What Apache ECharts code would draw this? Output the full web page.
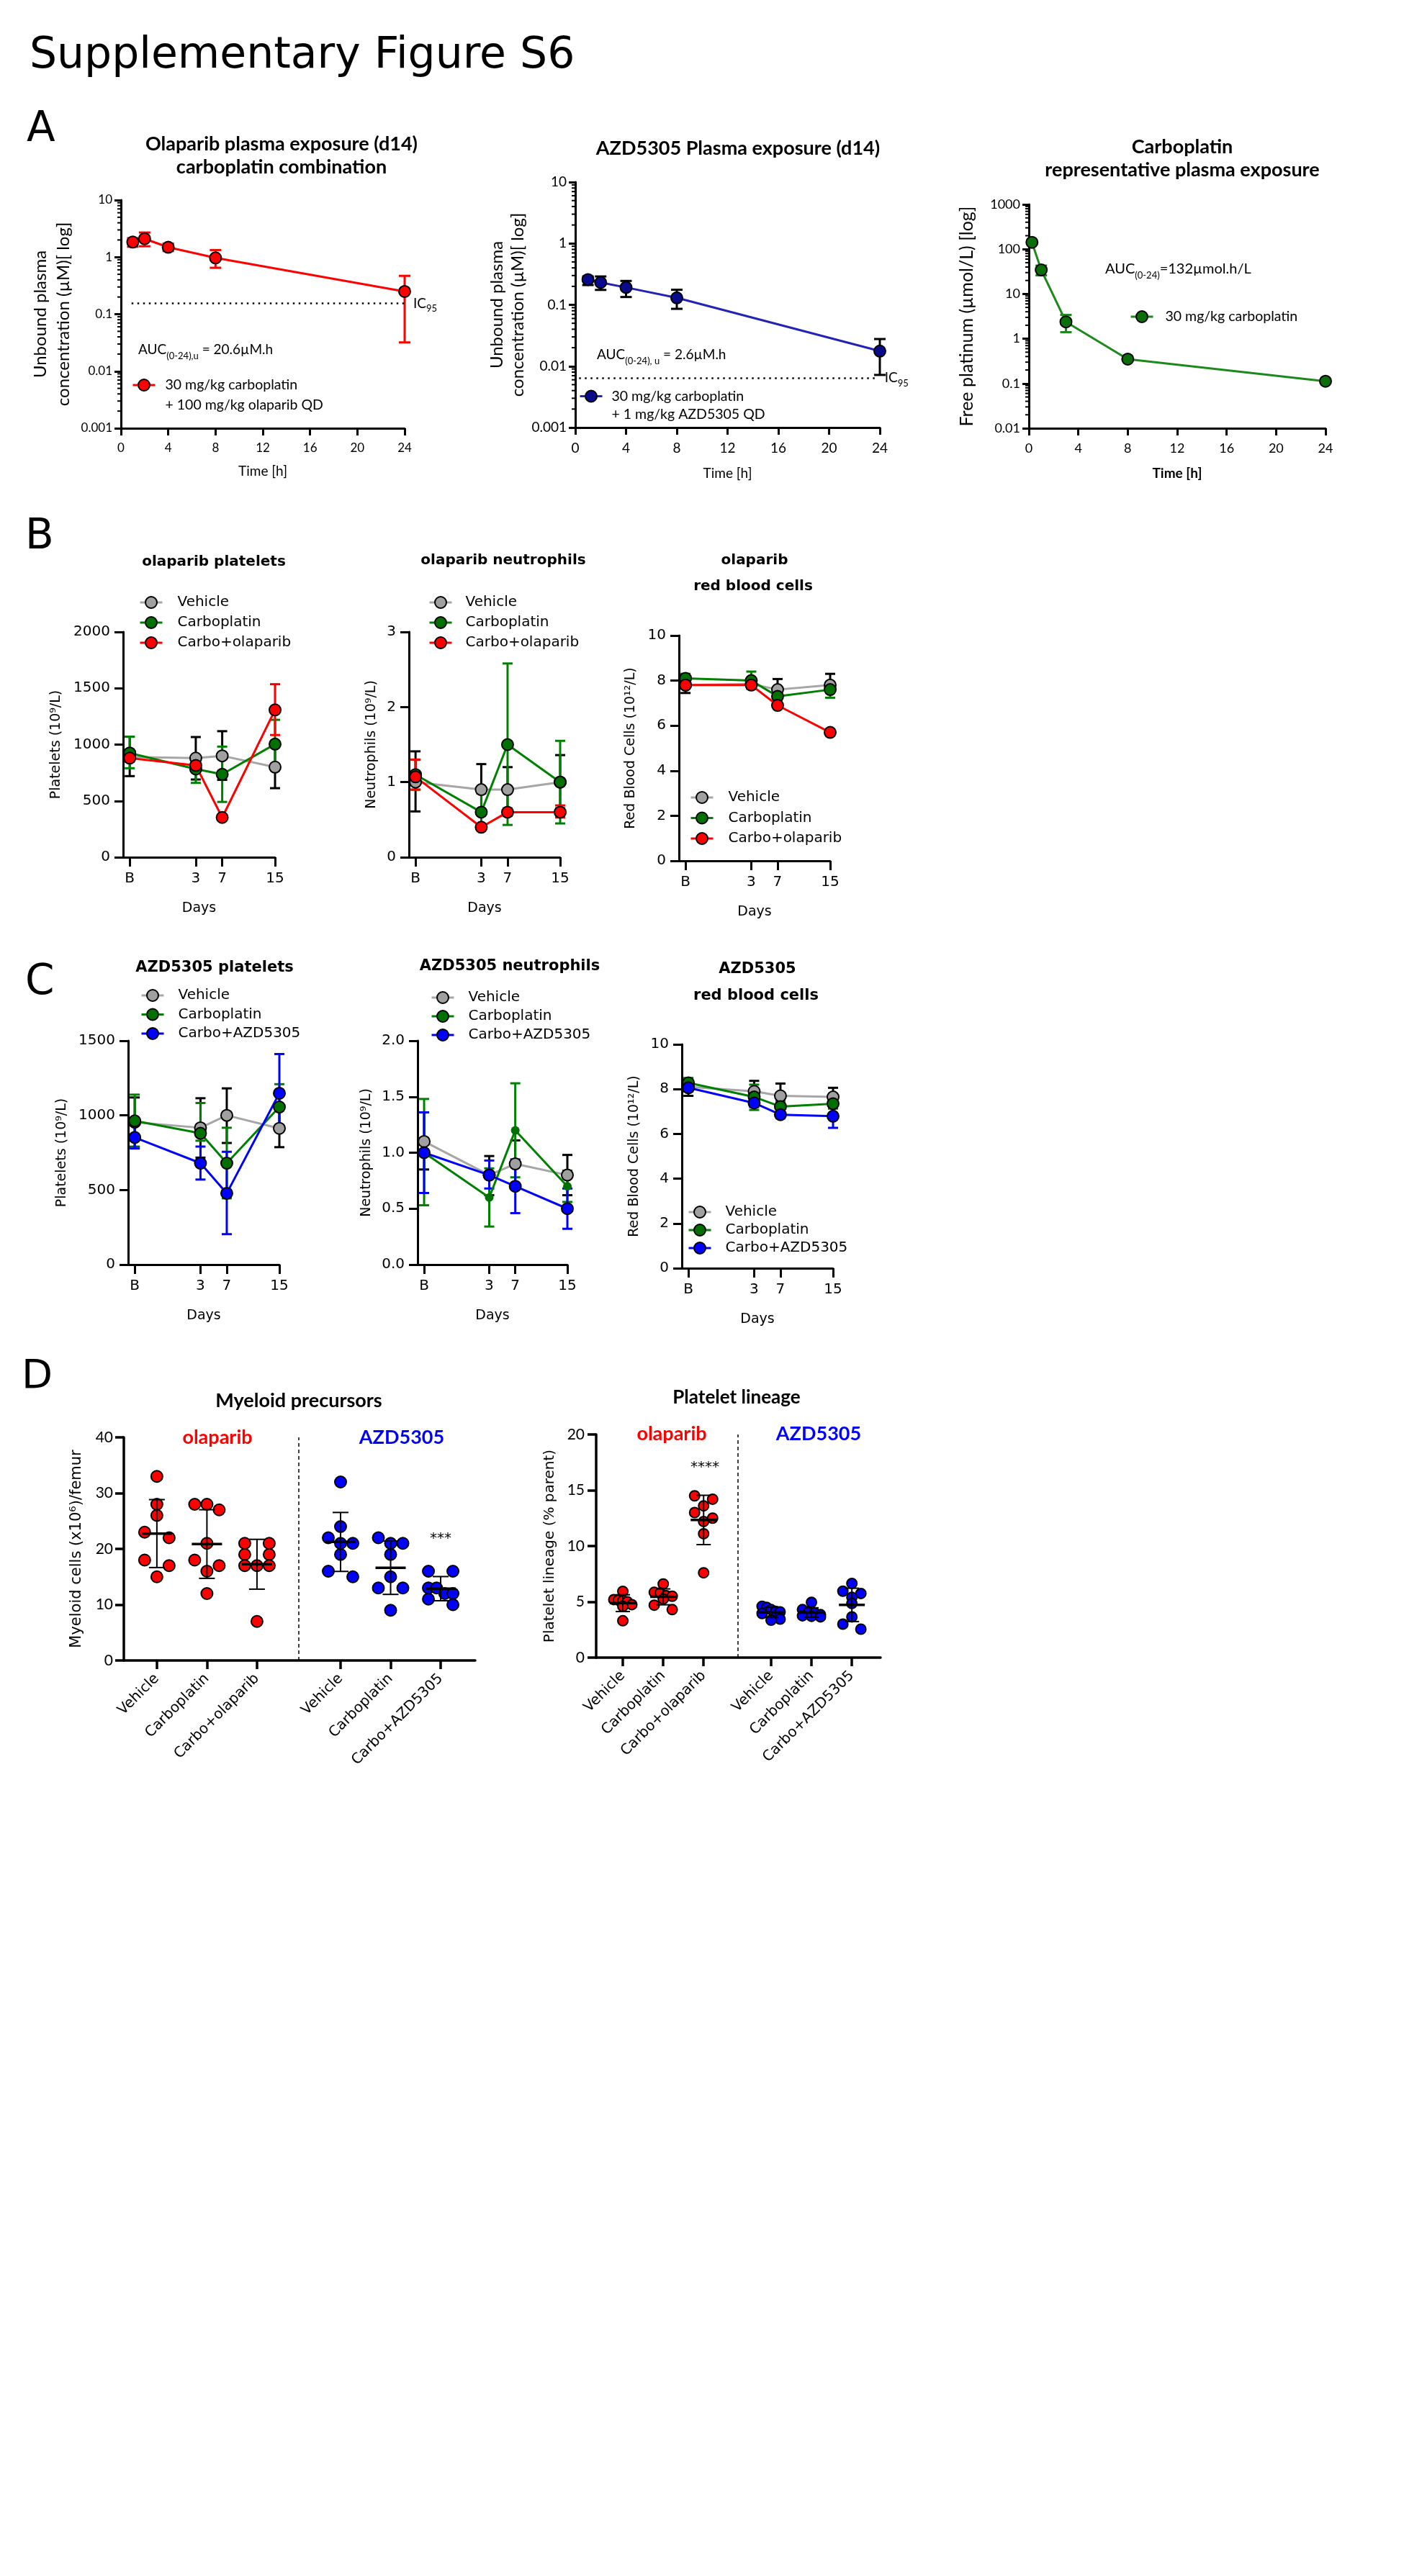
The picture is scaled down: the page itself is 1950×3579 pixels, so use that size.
<!DOCTYPE html>
<html>
<head>
<meta charset="utf-8">
<script src="https://cdn.jsdelivr.net/npm/echarts@6/dist/echarts.min.js"></script>
<style>html,body{margin:0;padding:0;background:#fff}#c{width:1950px;height:3579px}</style>
</head>
<body>
<div id="c"></div>
<script>
// ====================== DATA ======================
// Panel A – PK curves (time in h, concentrations)
const timeOla = [1, 2, 4, 8, 24];
const olaMean = [1.84, 2.1, 1.49, 0.97, 0.25];
const olaLo   = [1.52, 1.55, 1.28, 0.65, 0.032];
const olaHi   = [2.15, 2.7, 1.73, 1.33, 0.47];
const olaIC95 = 0.155;

const timeAzd = [1, 2, 4, 8, 24];
const azdMean = [0.258, 0.231, 0.192, 0.130, 0.0176];
const azdLo   = [0.21, 0.175, 0.134, 0.086, 0.0072];
const azdHi   = [0.29, 0.29, 0.245, 0.176, 0.0277];
const azdIC95 = 0.0064;

const timePt = [0.25, 1, 3, 8, 24];
const ptMean = [142, 34.3, 2.38, 0.35, 0.112];
const ptLo   = [null, 26, 1.4, null, null];
const ptHi   = [null, 43, 3.4, null, null];

// Panels B/C – days (B = baseline plotted at day -7)
const dayValues = [-7, 3, 7, 15];
const dayLabels = ['B', '3', '7', '15'];

const bPltVeh = [890, 880, 900, 800],   bPltVehLo = [720, 690, 687, 613],  bPltVehHi = [1070, 1067, 1119, 999];
const bPltCar = [925, 783, 736, 1004],  bPltCarLo = [790, 660, 491, 790],  bPltCarHi = [1070, 890, 982, 1220];
const bPltOla = [880, 815, 353, 1308],  bPltOlaLo = [850, 790, 330, 1085], bPltOlaHi = [910, 840, 375, 1536];

const bNeuVeh = [1.0, 0.9, 0.9, 1.0],   bNeuVehLo = [0.61, 0.6, 0.6, 0.65], bNeuVehHi = [1.41, 1.24, 1.2, 1.36];
const bNeuCar = [1.1, 0.6, 1.5, 1.0],   bNeuCarLo = [0.9, 0.39, 0.43, 0.45], bNeuCarHi = [1.3, 0.85, 2.58, 1.55];
const bNeuOla = [1.07, 0.4, 0.6, 0.6],  bNeuOlaLo = [0.9, 0.37, 0.55, 0.53], bNeuOlaHi = [1.3, 0.43, 0.65, 0.69];

const bRbcVeh = [7.8, 7.85, 7.6, 7.8],  bRbcVehLo = [7.45, 7.65, 7.3, 7.5], bRbcVehHi = [8.05, 8.1, 8.07, 8.3];
const bRbcCar = [8.1, 8.0, 7.3, 7.6],   bRbcCarLo = [7.9, 7.64, 7.1, 7.24], bRbcCarHi = [8.3, 8.4, 7.5, 7.9];
const bRbcOla = [7.8, 7.8, 6.9, 5.7],   bRbcOlaLo = [7.7, 7.7, 6.8, 5.6],   bRbcOlaHi = [7.9, 7.9, 7.0, 5.8];

const cPltVeh = [954, 917, 1000, 913],  cPltVehLo = [790, 717, 815, 787],  cPltVehHi = [1120, 1115, 1181, 1040];
const cPltCar = [963, 880, 680, 1056],  cPltCarLo = [787, 830, 444, 900],  cPltCarHi = [1139, 1083, 917, 1209];
const cPltAzd = [852, 680, 478, 1148],  cPltAzdLo = [778, 570, 204, 900],  cPltAzdHi = [940, 791, 756, 1411];

const cNeuVeh = [1.1, 0.8, 0.9, 0.8],   cNeuVehLo = [0.85, 0.62, 0.7, 0.62], cNeuVehHi = [1.36, 0.97, 1.11, 0.98];
const cNeuCar = [1.0, 0.6, 1.2, 0.7],   cNeuCarLo = [0.53, 0.34, 0.78, 0.56], cNeuCarHi = [1.48, 0.86, 1.62, 0.84];
const cNeuAzd = [1.0, 0.8, 0.7, 0.5],   cNeuAzdLo = [0.64, 0.68, 0.46, 0.32], cNeuAzdHi = [1.36, 0.93, 0.94, 0.68];

const cRbcVeh = [8.1, 7.9, 7.7, 7.65],  cRbcVehLo = [7.7, 7.6, 7.4, 7.4],   cRbcVehHi = [8.4, 8.37, 8.25, 8.06];
const cRbcCar = [8.28, 7.65, 7.22, 7.35], cRbcCarLo = [8.0, 7.07, 6.95, 7.13], cRbcCarHi = [8.5, 8.2, 7.5, 7.6];
const cRbcAzd = [8.06, 7.38, 6.86, 6.79], cRbcAzdLo = [7.9, 7.2, 6.7, 6.27], cRbcAzdHi = [8.2, 7.55, 7.0, 7.2];

// Panel D – individual animals
const dGroupNames = ['Vehicle', 'Carboplatin', 'Carbo+olaparib', 'Vehicle', 'Carboplatin', 'Carbo+AZD5305'];
const myeOlaVeh = [33, 28, 26, 23, 22, 18, 17, 15];
const myeOlaCar = [28, 28, 27, 21, 18, 17, 16, 12];
const myeOlaCmb = [21, 21, 19, 19, 17, 17, 17, 7];
const myeAzdVeh = [32, 24, 22, 21, 21, 19, 16, 15];
const myeAzdCar = [22, 21, 21, 19, 15, 13, 13, 9];
const myeAzdCmb = [16, 16, 13, 13, 12, 12, 11, 10];

const pltOlaVeh = [5.94, 5.2, 5.15, 5.1, 5.0, 4.75, 4.6, 3.3];
const pltOlaCar = [6.6, 5.85, 5.8, 5.55, 5.5, 5.25, 4.7, 4.3];
const pltOlaCmb = [14.5, 14.2, 13.6, 13.0, 12.5, 12.2, 11.1, 7.6];
const pltAzdVeh = [4.6, 4.5, 4.3, 4.15, 4.1, 3.95, 3.45, 3.35];
const pltAzdCar = [4.95, 4.3, 4.1, 4.0, 3.85, 3.75, 3.7, 3.65];
const pltAzdCmb = [6.65, 5.95, 5.75, 5.4, 4.85, 3.65, 3.0, 2.55];

// ====================== STYLE / LAYOUT ======================
const FV = 'DejaVu Sans', FC = 'Lato';
const COL = {
  veh: { line: '#a6a6a6', fill: '#a0a0a0', err: '#000000' },
  car: { line: '#008000', fill: '#007000', err: '#008000' },
  ola: { line: '#ff0000', fill: '#ff0000', err: '#ff0000' },
  azd: { line: '#0000ff', fill: '#0000ff', err: '#0000ff' },
  pkOla: { line: '#ff0000', fill: '#ff0000', err: '#ff0000' },
  pkAzd: { line: '#2323b8', fill: '#0a0a8c', err: '#000000' },
  pkPt:  { line: '#1b8a1b', fill: '#0b6e0b', err: '#1b8a1b' }
};

function clean(o) {
  if (Array.isArray(o)) return o.map(clean);
  if (o && typeof o === 'object') {
    const r = {};
    for (const k in o) if (o[k] !== undefined) r[k] = clean(o[k]);
    return r;
  }
  return o;
}

const option = {
  animation: false, backgroundColor: '#ffffff',
  textStyle: { fontFamily: FV },
  grid: [], xAxis: [], yAxis: [], series: [], legend: [], graphic: []
};

function txt(x, y, text, font, size, extra) {
  extra = extra || {};
  return {
    type: 'text', x: x, y: y, silent: true,
    style: Object.assign({
      text: text, fontFamily: font, fontSize: size, fontWeight: extra.weight || 'normal',
      fill: extra.color || '#000',
      align: extra.align || 'center', textAlign: extra.align || 'center',
      verticalAlign: 'middle', textVerticalAlign: 'middle'
    }, extra.style || {})
  };
}

function errSeries(xi, yi, xs, lo, hi, color, cap, lw) {
  const data = [];
  xs.forEach((x, i) => { if (lo[i] != null && hi[i] != null) data.push([x, lo[i], hi[i]]); });
  return {
    type: 'custom', xAxisIndex: xi, yAxisIndex: yi, data: data, z: 2, silent: true, clip: false,
    renderItem: function (params, api) {
      const x = api.value(0);
      const a = api.coord([x, api.value(1)]), b = api.coord([x, api.value(2)]);
      const st = { stroke: color, lineWidth: lw };
      return { type: 'group', children: [
        { type: 'line', shape: { x1: a[0], y1: a[1], x2: b[0], y2: b[1] }, style: st },
        { type: 'line', shape: { x1: a[0] - cap, y1: a[1], x2: a[0] + cap, y2: a[1] }, style: st },
        { type: 'line', shape: { x1: b[0] - cap, y1: b[1], x2: b[0] + cap, y2: b[1] }, style: st }
      ]};
    }
  };
}

function minorLogTicks(xi, yi, xMin, eMin, eMax, len) {
  const vals = [];
  for (let e = eMin; e < eMax; e++) for (let k = 2; k <= 9; k++) vals.push([xMin, k * Math.pow(10, e)]);
  return {
    type: 'custom', xAxisIndex: xi, yAxisIndex: yi, data: vals, silent: true, clip: false, z: 1,
    renderItem: function (params, api) {
      const p = api.coord([api.value(0), api.value(1)]);
      return { type: 'line', shape: { x1: p[0] - len, y1: p[1], x2: p[0], y2: p[1] }, style: { stroke: '#000', lineWidth: 2 } };
    }
  };
}

// generic XY panel
function xyPanel(P) {
  const gi = option.grid.length;
  option.grid.push({ left: P.g[0], top: P.g[1], width: P.g[2], height: P.g[3] });
  const xi = option.xAxis.length, yi = option.yAxis.length;
  option.xAxis.push(clean({
    gridIndex: gi, type: 'value', min: P.xMin, max: P.xMax, interval: P.xInterval,
    name: P.xName, nameLocation: 'middle', nameGap: P.xNameGap, nameMoveOverlap: false,
    nameTextStyle: { color: '#000', fontFamily: P.nameFont, fontSize: P.xNameSize, fontWeight: P.xNameWeight || 'normal' },
    axisLine: { show: true, onZero: false, lineStyle: { color: '#000', width: P.lw || 3 } },
    axisTick: { show: true, length: P.xTickLen || 10, lineStyle: { color: '#000', width: P.lw || 3 }, customValues: P.xTicks },
    axisLabel: { color: '#000', fontFamily: P.xLabelFont || P.labelFont, fontSize: P.xLabelSize || P.labelSize, margin: P.xLabelMargin,
      customValues: P.xTicks, formatter: P.xFormatter || (v => String(v)), rotate: P.xRotate, hideOverlap: false },
    splitLine: { show: false }
  }));
  option.yAxis.push(clean({
    gridIndex: gi, type: P.yLog ? 'log' : 'value', logBase: P.yLog ? 10 : undefined,
    min: P.yMin, max: P.yMax, interval: P.yInterval,
    name: P.yName, nameLocation: 'middle', nameGap: P.yNameGap, nameRotate: 90, nameMoveOverlap: false,
    nameTextStyle: { color: '#000', fontFamily: P.nameFont, fontSize: P.yNameSize, lineHeight: P.yNameLH, align: 'center' },
    axisLine: { show: true, onZero: false, lineStyle: { color: '#000', width: P.lw || 3 } },
    axisTick: { show: true, length: P.yTickLen || 10, lineStyle: { color: '#000', width: P.lw || 3 } },
    axisLabel: { color: '#000', fontFamily: P.labelFont, fontSize: P.labelSize, margin: P.yLabelMargin, formatter: P.yFormatter || (v => String(v)) },
    splitLine: { show: false }, minorTick: { show: false }
  }));
  return { xi: xi, yi: yi };
}

function lineSeries(ax, s, xs) {
  option.series.push(errSeries(ax.xi, ax.yi, xs, s.lo, s.hi, s.c.err, s.cap || 7, 3));
  option.series.push(clean({
    type: 'line', name: s.name, xAxisIndex: ax.xi, yAxisIndex: ax.yi, z: 3,
    data: xs.map((x, i) => [x, s.mean[i]]),
    symbol: 'circle', symbolSize: s.size || 16, showSymbol: true,
    lineStyle: { color: s.c.line, width: 3 },
    itemStyle: { color: s.c.fill, borderColor: s.noBorder ? s.c.fill : '#000', borderWidth: s.noBorder ? 0 : 2 },
    emphasis: { disabled: true },
    markLine: s.markLine
  }));
}

function lineLegend(names, left, top, gap, spacer) {
  option.legend.push({
    orient: 'vertical', left: left, top: top, padding: 0, itemGap: gap,
    itemWidth: 31, itemHeight: 20, selectedMode: false, data: names,
    lineStyle: { width: 3 },
    formatter: n => '{sp| }{t|' + n + '}',
    textStyle: { fontFamily: FV, fontSize: 20, lineHeight: 20, color: '#000',
      rich: { sp: { width: spacer, lineHeight: 20 }, t: { fontFamily: FV, fontSize: 20, lineHeight: 20, color: '#000' } } }
  });
}

// ====================== PANEL A ======================
const pkRich = {
  m: { fontFamily: FC, fontSize: 19, lineHeight: 28, color: '#000' },
  s: { fontFamily: FC, fontSize: 13, lineHeight: 13, verticalAlign: 'bottom', color: '#000' }
};
function icMark(x0, x1, ic) {
  return {
    symbol: 'none', silent: true, animation: false,
    lineStyle: { type: [2.5, 5.5], color: '#000', width: 2.5 },
    label: { show: true, position: 'end', distance: 12, formatter: '{m|IC}{s|95}', rich: pkRich },
    emphasis: { disabled: true },
    data: [[{ coord: [x0, ic] }, { coord: [x1, ic] }]]
  };
}

const pkCommon = { xMin: 0, xMax: 24, xInterval: 4, yLog: true, labelFont: FC, nameFont: FC,
  xName: 'Time [h]', xNameSize: 19, yNameLH: 31, xLabelMargin: 19, yLabelMargin: 12, yTickLen: 9, xTickLen: 10 };

let ax = xyPanel(Object.assign({}, pkCommon, { g: [168, 278, 394, 317], yMin: 0.001, yMax: 10, labelSize: 17,
  yName: 'Unbound plasma\nconcentration (µM)[ log]', yNameSize: 24, yNameLH: 32, yNameGap: 64, xNameGap: 50 }));
option.series.push(minorLogTicks(ax.xi, ax.yi, 0, -3, 1, 5));
lineSeries(ax, { name: 'olaPK', mean: olaMean, lo: olaLo, hi: olaHi, c: COL.pkOla, cap: 8, markLine: icMark(0.9, 24, olaIC95) }, timeOla);

ax = xyPanel(Object.assign({}, pkCommon, { g: [799, 253, 423, 341], yMin: 0.001, yMax: 10, labelSize: 19,
  yName: 'Unbound plasma\nconcentration (µM)[ log]', yNameSize: 24, yNameGap: 65, yNameLH: 29, xNameGap: 54 }));
option.series.push(minorLogTicks(ax.xi, ax.yi, 0, -3, 1, 5));
lineSeries(ax, { name: 'azdPK', mean: azdMean, lo: azdLo, hi: azdHi, c: COL.pkAzd, cap: 8, markLine: icMark(0.3, 23.7, azdIC95) }, timeAzd);

ax = xyPanel(Object.assign({}, pkCommon, { g: [1429, 284, 412, 311], yMin: 0.01, yMax: 1000, labelSize: 18,
  yName: 'Free platinum (µmol/L) [log]', yNameSize: 25, yNameLH: 25, yNameGap: 74, xNameGap: 53, xNameWeight: 'bold' }));
option.series.push(minorLogTicks(ax.xi, ax.yi, 0, -2, 3, 5));
lineSeries(ax, { name: 'ptPK', mean: ptMean, lo: ptLo, hi: ptHi, c: COL.pkPt, cap: 8 }, timePt);

function pkLegend(name, left, top, lh, lines, spacer) {
  const body = lines.map(l => '{sp| }{t|' + l + '}').join('\n');
  option.legend.push({
    orient: 'vertical', left: left, top: top, padding: 0, itemWidth: 31, itemHeight: 20,
    selectedMode: false, data: [name], lineStyle: { width: 3 },
    formatter: () => (lines.length > 1 ? '{e| }\n' : '') + body,
    textStyle: { fontFamily: FC, fontSize: 19, lineHeight: lh, color: '#000',
      rich: { e: { fontSize: 19, lineHeight: lh }, sp: { width: spacer, lineHeight: lh },
              t: { fontFamily: FC, fontSize: 19.5, lineHeight: lh, color: '#000' } } }
  });
}
pkLegend('olaPK', 183, 493, 28, ['30 mg/kg carboplatin', '+ 100 mg/kg olaparib QD'], 9);
pkLegend('azdPK', 804, 513, 25, ['30 mg/kg carboplatin', '+ 1 mg/kg AZD5305 QD'], 8);
pkLegend('ptPK', 1569, 428, 24, ['30 mg/kg carboplatin'], 12);

function richTxt(x, y, text, size) {
  return { type: 'text', x: x, y: y, silent: true, style: {
    text: text, align: 'left', textAlign: 'left', verticalAlign: 'middle', textVerticalAlign: 'middle',
    rich: { m: { fontFamily: FC, fontSize: size, lineHeight: 30, fill: '#000' },
            s: { fontFamily: FC, fontSize: 13, lineHeight: 13, verticalAlign: 'bottom', fill: '#000' } } } };
}
option.graphic.push(
  txt(41, 78, 'Supplementary Figure S6', FV, 60, { align: 'left' }),
  txt(37, 181, 'A', FV, 58, { align: 'left' }),
  txt(391, 200, 'Olaparib plasma exposure (d14)', FC, 27, { weight: 'bold' }),
  txt(391, 232, 'carboplatin combination', FC, 27, { weight: 'bold' }),
  txt(1025, 206, 'AZD5305 Plasma exposure (d14)', FC, 27, { weight: 'bold' }),
  txt(1642, 204, 'Carboplatin', FC, 27, { weight: 'bold' }),
  txt(1642, 236, 'representative plasma exposure', FC, 27, { weight: 'bold' }),
  richTxt(192, 486, '{m|AUC}{s|(0-24),u}{m| = 20.6µM.h}', 19),
  richTxt(829, 493, '{m|AUC}{s|(0-24), u}{m| = 2.6µM.h}', 19),
  richTxt(1535, 374, '{m|AUC}{s|(0-24)}{m|=132µmol.h/L}', 20)
);

// ====================== PANELS B & C ======================
const dayCommon = { xMin: -8, xMax: 15, xTicks: dayValues, xFormatter: v => dayLabels[dayValues.indexOf(v)] ?? '',
  labelFont: FV, nameFont: FV, labelSize: 20, xName: 'Days', xNameSize: 19, xNameGap: 62,
  xLabelMargin: 20, yLabelMargin: 18, yNameSize: 19, yNameLH: 21, xTickLen: 13, yTickLen: 12 };

function dayPanel(g, yMin, yMax, yInt, yName, yGap, ser, leg, yFmt) {
  const a = xyPanel(Object.assign({}, dayCommon, { g: g, yMin: yMin, yMax: yMax, yInterval: yInt,
    yName: yName, yNameGap: yGap, yFormatter: yFmt }));
  ser.forEach(s => lineSeries(a, s, dayValues));
  lineLegend(ser.map(s => s.name), leg[0], leg[1], leg[2], leg[3]);
}
const S = (name, mean, lo, hi, c, extra) => Object.assign({ name: name, mean: mean, lo: lo, hi: hi, c: c, cap: 7 }, extra || {});

dayPanel([171, 878, 211, 313], 0, 2000, 500, 'Platelets (10⁹/L)', 82, [
  S('Vehicle', bPltVeh, bPltVehLo, bPltVehHi, COL.veh),
  S('Carboplatin', bPltCar, bPltCarLo, bPltCarHi, COL.car),
  S('Carbo+olaparib', bPltOla, bPltOlaLo, bPltOlaHi, COL.ola)], [193, 827, 8, 16]);

dayPanel([568, 878, 210, 313], 0, 3, 1, 'Neutrophils (10⁹/L)', 41, [
  S('Vehicle', bNeuVeh, bNeuVehLo, bNeuVehHi, COL.veh),
  S('Carboplatin', bNeuCar, bNeuCarLo, bNeuCarHi, COL.car),
  S('Carbo+olaparib', bNeuOla, bNeuOlaLo, bNeuOlaHi, COL.ola)], [595, 827, 8, 14]);

dayPanel([943, 883, 210, 313], 0, 10, 2, 'Red Blood Cells (10¹²/L)', 56, [
  S('Vehicle', bRbcVeh, bRbcVehLo, bRbcVehHi, COL.veh),
  S('Carboplatin', bRbcCar, bRbcCarLo, bRbcCarHi, COL.car),
  S('Carbo+olaparib', bRbcOla, bRbcOlaLo, bRbcOlaHi, COL.ola)], [958, 1098, 8.5, 16]);

dayPanel([178, 1446, 210, 311], 0, 1500, 500, 'Platelets (10⁹/L)', 81, [
  S('Vehicle', cPltVeh, cPltVehLo, cPltVehHi, COL.veh),
  S('Carboplatin', cPltCar, cPltCarLo, cPltCarHi, COL.car),
  S('Carbo+AZD5305', cPltAzd, cPltAzdLo, cPltAzdHi, COL.azd)], [195, 1373, 6.5, 15]);

dayPanel([580, 1446, 208, 311], 0, 2, 0.5, 'Neutrophils (10⁹/L)', 60, [
  S('Vehicle', cNeuVeh, cNeuVehLo, cNeuVehHi, COL.veh),
  S('Carboplatin', cNeuCar, cNeuCarLo, cNeuCarHi, COL.car, { size: 12, noBorder: true }),
  S('Carbo+AZD5305', cNeuAzd, cNeuAzdLo, cNeuAzdHi, COL.azd)], [598, 1376, 6, 15], v => v.toFixed(1));

dayPanel([947, 1451, 210, 311], 0, 10, 2, 'Red Blood Cells (10¹²/L)', 55, [
  S('Vehicle', cRbcVeh, cRbcVehLo, cRbcVehHi, COL.veh),
  S('Carboplatin', cRbcCar, cRbcCarLo, cRbcCarHi, COL.car),
  S('Carbo+AZD5305', cRbcAzd, cRbcAzdLo, cRbcAzdHi, COL.azd)], [955, 1674, 5, 15]);

option.graphic.push(
  txt(35, 747, 'B', FV, 58, { align: 'left' }),
  txt(297, 781, 'olaparib platelets', FV, 20, { weight: 'bold' }),
  txt(699, 779, 'olaparib neutrophils', FV, 20, { weight: 'bold' }),
  txt(1048, 779, 'olaparib', FV, 20, { weight: 'bold' }),
  txt(1046, 815, 'red blood cells', FV, 20, { weight: 'bold' }),
  txt(35, 1366, 'C', FV, 58, { align: 'left' }),
  txt(298, 1345, 'AZD5305 platelets', FV, 21, { weight: 'bold' }),
  txt(708, 1343, 'AZD5305 neutrophils', FV, 21, { weight: 'bold' }),
  txt(1052, 1347, 'AZD5305', FV, 21, { weight: 'bold' }),
  txt(1050, 1384, 'red blood cells', FV, 21, { weight: 'bold' })
);

// ====================== PANEL D ======================
const dGroupPos = [1, 2, 3, 4.67, 5.67, 6.67];
const dColors = ['#ff0000', '#ff0000', '#ff0000', '#0000ff', '#0000ff', '#0000ff'];

function rowOffsets(values, pxY, rowPx, slot) {
  const idx = values.map((_, i) => i).sort((a, b) => values[b] - values[a]);
  const out = new Array(values.length).fill(0);
  let r = 0;
  while (r < idx.length) {
    const row = [idx[r]]; let k = r + 1;
    while (k < idx.length && (values[idx[r]] - values[idx[k]]) * pxY < rowPx) { row.push(idx[k]); k++; }
    const n = row.length;
    row.forEach((id, j) => { out[id] = n === 1 ? 0 : (n === 2 ? (j === 0 ? -slot : slot) : -slot + 2 * slot * j / (n - 1)); });
    r = k;
  }
  return out;
}
function meanSd(v) {
  const m = v.reduce((a, b) => a + b, 0) / v.length;
  const sd = Math.sqrt(v.reduce((a, b) => a + (b - m) * (b - m), 0) / (v.length - 1));
  return [m, sd];
}

function dotPanel(P) {
  const a = xyPanel({ g: P.g, xMin: P.xMin, xMax: P.xMax, xTicks: dGroupPos,
    xFormatter: v => { let bi = 0; dGroupPos.forEach((p, i) => { if (Math.abs(p - v) < Math.abs(dGroupPos[bi] - v)) bi = i; }); return dGroupNames[bi]; },
    xRotate: 45, xLabelFont: FV, xLabelSize: 20, xLabelMargin: 22, xTickLen: 12,
    yMin: 0, yMax: P.yMax, yInterval: P.yInt, yName: P.yName, yNameGap: P.yNameGap, yNameSize: P.yNameSize, yNameLH: 24,
    labelFont: FC, labelSize: P.labelSize, nameFont: FV, yLabelMargin: P.yLabelMargin, yTickLen: 12, lw: 3.5 });
  const pxX = P.g[2] / (P.xMax - P.xMin), pxY = P.g[3] / P.yMax;
  P.groups.forEach((vals, k) => {
    const offs = rowOffsets(vals, pxY, P.rowPx, P.slot);
    option.series.push(clean({
      type: 'scatter', xAxisIndex: a.xi, yAxisIndex: a.yi, z: 3, symbolSize: P.sym,
      data: vals.map((v, j) => [dGroupPos[k] + offs[j] / pxX, v]),
      itemStyle: { color: dColors[k], borderColor: '#000', borderWidth: 2, opacity: 1 },
      emphasis: { disabled: true },
      markLine: k === 0 ? { symbol: 'none', silent: true, label: { show: false },
        lineStyle: { type: [5, 4], color: '#000', width: 1.5 }, data: [{ xAxis: P.divider }] } : undefined
    }));
    const ms = meanSd(vals);
    option.series.push({
      type: 'custom', xAxisIndex: a.xi, yAxisIndex: a.yi, z: 4, silent: true, clip: false,
      data: [[dGroupPos[k], ms[0], ms[1]]],
      renderItem: function (params, api) {
        const x = api.value(0), m = api.value(1), s = api.value(2);
        const pm = api.coord([x, m]), pt = api.coord([x, m + s]), pb = api.coord([x, m - s]);
        const st = { stroke: '#000', lineWidth: 2 };
        return { type: 'group', children: [
          { type: 'line', shape: { x1: pm[0] - P.meanHalf, y1: pm[1], x2: pm[0] + P.meanHalf, y2: pm[1] }, style: { stroke: '#000', lineWidth: 3.5 } },
          { type: 'line', shape: { x1: pt[0], y1: pt[1], x2: pb[0], y2: pb[1] }, style: st },
          { type: 'line', shape: { x1: pt[0] - P.capHalf, y1: pt[1], x2: pt[0] + P.capHalf, y2: pt[1] }, style: st },
          { type: 'line', shape: { x1: pb[0] - P.capHalf, y1: pb[1], x2: pb[0] + P.capHalf, y2: pb[1] }, style: st }
        ]};
      }
    });
  });
}

dotPanel({ g: [172, 1997, 488, 310], xMin: 0.34, xMax: 7.36, divider: 3.83, yMax: 40, yInt: 10,
  yName: 'Myeloid cells (x10⁶)/femur', yNameGap: 53, yNameSize: 21, labelSize: 21, yLabelMargin: 15,
  groups: [myeOlaVeh, myeOlaCar, myeOlaCmb, myeAzdVeh, myeAzdCar, myeAzdCmb],
  rowPx: 12, slot: 17, sym: 16, meanHalf: 21, capHalf: 11 });

dotPanel({ g: [828, 1993, 395, 310], xMin: 0.34, xMax: 7.38, divider: 3.85, yMax: 20, yInt: 5,
  yName: 'Platelet lineage (% parent)', yNameGap: 52, yNameSize: 20, labelSize: 21, yLabelMargin: 16,
  groups: [pltOlaVeh, pltOlaCar, pltOlaCmb, pltAzdVeh, pltAzdCar, pltAzdCmb],
  rowPx: 8, slot: 12.5, sym: 14, meanHalf: 18, capHalf: 10 });

option.graphic.push(
  txt(30, 1913, 'D', FV, 56, { align: 'left' }),
  txt(415, 1946, 'Myeloid precursors', FC, 27, { weight: 'bold' }),
  txt(302, 1997, 'olaparib', FC, 27, { weight: 'bold', color: '#ff0000' }),
  txt(558, 1997, 'AZD5305', FC, 27, { weight: 'bold', color: '#0000ff' }),
  txt(612, 2138, '***', FV, 20),
  txt(1023, 1942, 'Platelet lineage', FC, 26, { weight: 'bold' }),
  txt(933, 1992, 'olaparib', FC, 27, { weight: 'bold', color: '#ff0000' }),
  txt(1137, 1992, 'AZD5305', FC, 27, { weight: 'bold', color: '#0000ff' }),
  txt(979, 2039, '****', FV, 20)
);

const chart = echarts.init(document.getElementById('c'), null, { renderer: 'canvas', width: 1950, height: 3579 });
chart.setOption(option);
</script>
</body>
</html>
